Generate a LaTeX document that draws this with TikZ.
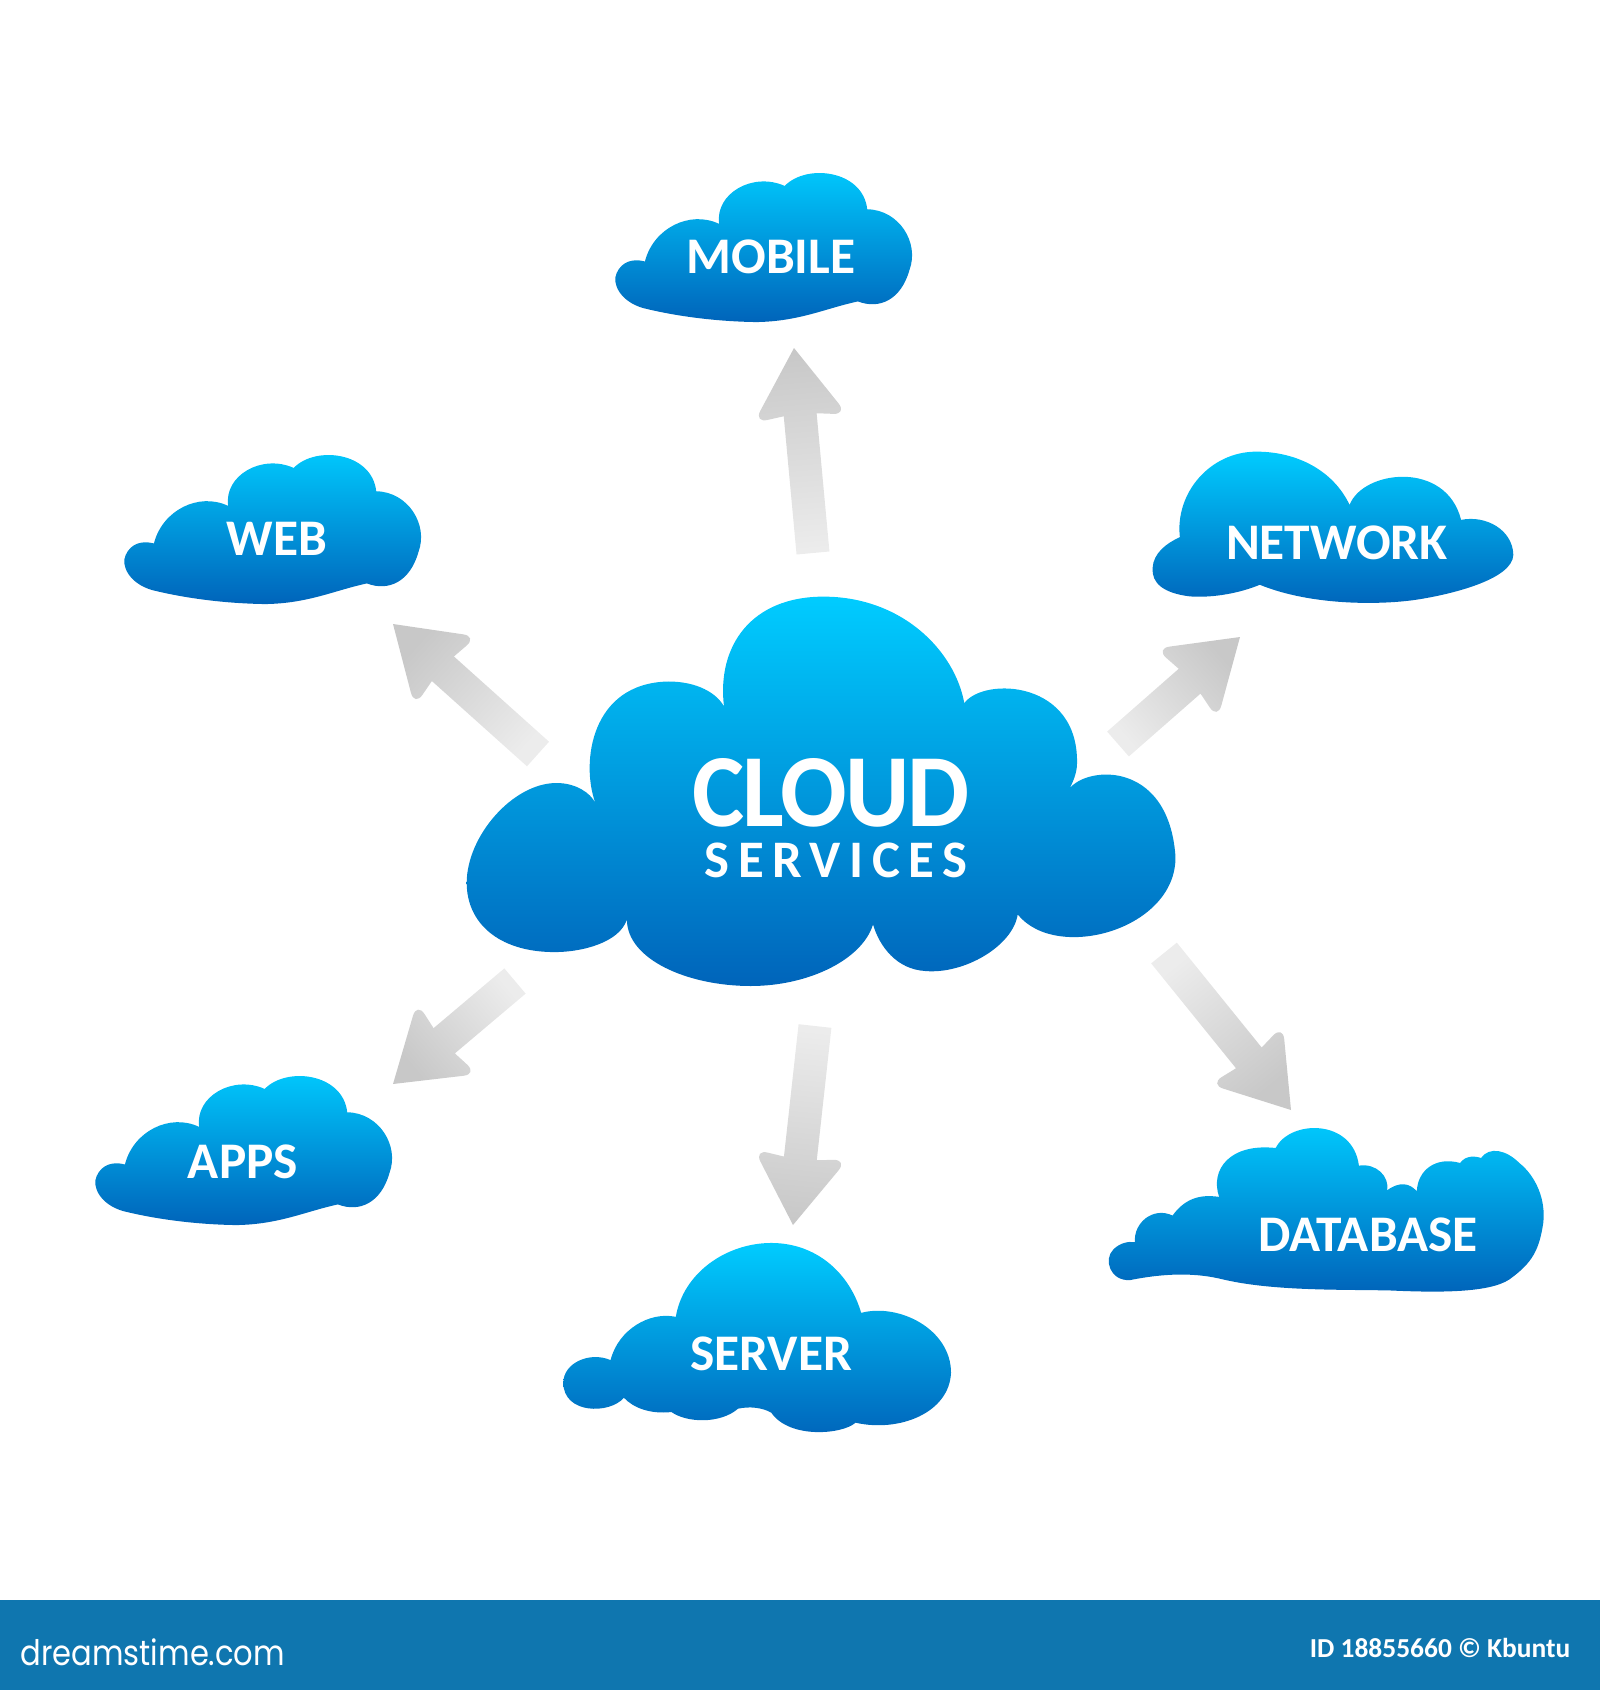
\documentclass[tikz,border=0pt]{standalone}
\usepackage{fontspec}
\usetikzlibrary{calc}
\newfontfamily\labelfont{Carlito}
\newfontfamily\titlefont[LetterSpace=-2]{Carlito}
\newfontfamily\subfont[LetterSpace=16]{Carlito}
\newfontfamily\barfont{Poppins}
\definecolor{cloudtop}{RGB}{0,204,255}
\definecolor{cloudbottom}{RGB}{0,100,186}
\definecolor{barblue}{RGB}{15,118,175}
\definecolor{tailgrey}{RGB}{236,236,236}
\definecolor{tipgrey}{RGB}{200,200,200}
\tikzset{
	cloudfill/.style={top color=cloudtop,bottom color=cloudbottom},
	arrowfill/.style={top color=tipgrey,bottom color=tailgrey},
	zoomed/.style={x=0.003333cm,y=-0.003333cm},
	cloudlabel/.style={text=white,inner sep=0pt,font=\labelfont\bfseries\fontsize{14.6}{15}\selectfont},
	barlabel/.style={text=white,inner sep=0pt}
}
\newcommand{\smallcloud}[2]{
	\path[cloudfill,shift={(#1,#2)},zoomed] (135,335) .. controls (160,235) and (270,180) .. (358,222)
		.. controls (345,130) and (460,65) .. (555,108)
		.. controls (620,40) and (790,60) .. (803,178)
		.. controls (900,180) and (960,280) .. (930,360)
		.. controls (905,450) and (840,480) .. (775,455)
		.. controls (680,475) and (600,515) .. (470,517)
		.. controls (330,515) and (210,495) .. (130,475)
		.. controls (60,455) and (35,400) .. (50,370)
		.. controls (65,335) and (100,325) .. (135,335) -- cycle;
}
\newcommand{\blockarrow}[3]{
	\coordinate (neck) at ($(#2)!.67cm!(#1)$);
	\coordinate (wing) at ($(#2)!.71cm!(#1)$);
	\path[arrowfill,shading angle=#3] ($(#1)!.165cm!90:(#2)$) -- ($(neck)!.165cm!90:(#2)$)
		[rounded corners=4pt] -- ($(wing)!.47cm!90:(#2)$) [sharp corners] -- (#2)
		[rounded corners=4pt] -- ($(wing)!.47cm!-90:(#2)$) [sharp corners] -- ($(neck)!.165cm!-90:(#2)$)
		-- ($(#1)!.165cm!-90:(#2)$) -- cycle;
}
\begin{document}
\begin{tikzpicture}[x=0.01cm,y=-0.01cm]
	\useasboundingbox (0,0) rectangle (1600,1690);
	\fill[barblue] (0,1600) rectangle (1600,1690);
	\smallcloud{600}{150}
	\smallcloud{109}{432}
	\smallcloud{80}{1053}
	\path[cloudfill,shift={(1100,430)},zoomed] (240,322) .. controls (225,190) and (330,65) .. (470,65)
		.. controls (590,65) and (700,120) .. (750,225)
		.. controls (790,120) and (1040,90) .. (1085,270)
		.. controls (1160,255) and (1240,300) .. (1242,375)
		.. controls (1240,450) and (1050,495) .. (950,510)
		.. controls (850,525) and (640,530) .. (480,465)
		.. controls (420,490) and (340,505) .. (270,500)
		.. controls (190,490) and (155,460) .. (158,415)
		.. controls (160,370) and (200,340) .. (240,322) -- cycle;
	\path[cloudfill,shift={(550,1010)},zoomed] (182,1052) .. controls (205,960) and (300,905) .. (378,922)
		.. controls (400,790) and (530,700) .. (665,700)
		.. controls (800,700) and (900,790) .. (935,910)
		.. controls (1050,880) and (1205,960) .. (1205,1090)
		.. controls (1200,1210) and (1050,1270) .. (918,1240)
		.. controls (880,1275) and (720,1290) .. (665,1210)
		.. controls (640,1195) and (600,1190) .. (565,1198)
		.. controls (510,1245) and (410,1240) .. (365,1208)
		.. controls (300,1215) and (250,1195) .. (222,1165)
		.. controls (180,1215) and (40,1215) .. (40,1120)
		.. controls (40,1060) and (120,1025) .. (182,1052) -- cycle;
	\path[cloudfill,shift={(1090,930)},zoomed] (135,938) .. controls (130,880) and (190,830) .. (248,858)
		.. controls (290,800) and (340,795) .. (388,802)
		.. controls (360,720) and (420,640) .. (558,655)
		.. controls (600,570) and (790,565) .. (808,708)
		.. controls (860,700) and (900,740) .. (893,782)
		.. controls (930,755) and (960,760) .. (982,785)
		.. controls (985,720) and (1040,680) .. (1112,700)
		.. controls (1130,675) and (1160,680) .. (1175,685)
		.. controls (1200,650) and (1250,660) .. (1290,700)
		.. controls (1340,740) and (1370,810) .. (1362,880)
		.. controls (1350,960) and (1330,1000) .. (1260,1050)
		.. controls (1200,1090) and (1050,1090) .. (900,1083)
		.. controls (750,1080) and (550,1085) .. (400,1050)
		.. controls (320,1030) and (230,1030) .. (120,1052)
		.. controls (60,1055) and (40,990) .. (70,960)
		.. controls (90,940) and (115,935) .. (135,938) -- cycle;
	\path[cloudfill,shift={(440,570)},x=0.004847cm,y=-0.003333cm] (320,700) .. controls (290,580) and (310,340) .. (470,335)
		.. controls (530,335) and (570,370) .. (585,410)
		.. controls (570,230) and (640,80) .. (790,80)
		.. controls (950,80) and (1060,240) .. (1080,400)
		.. controls (1120,320) and (1320,330) .. (1312,590)
		.. controls (1310,620) and (1300,650) .. (1293,665)
		.. controls (1320,590) and (1500,560) .. (1515,860)
		.. controls (1518,1080) and (1270,1180) .. (1190,1035)
		.. controls (1180,1130) and (1080,1215) .. (1000,1205)
		.. controls (940,1200) and (905,1130) .. (892,1065)
		.. controls (870,1170) and (760,1250) .. (640,1250)
		.. controls (510,1250) and (385,1170) .. (385,1050)
		.. controls (370,1120) and (290,1150) .. (230,1148)
		.. controls (120,1145) and (55,1060) .. (55,940)
		.. controls (55,800) and (150,640) .. (240,640)
		.. controls (280,640) and (310,670) .. (320,700) -- cycle;
	\coordinate (mobile tail) at (813,553);
	\coordinate (mobile tip) at (794,348);
	\coordinate (web tail) at (538,754);
	\coordinate (web tip) at (393,624);
	\coordinate (network tail) at (1118,744);
	\coordinate (network tip) at (1240,637);
	\coordinate (database tail) at (1164,953);
	\coordinate (database tip) at (1291,1110);
	\coordinate (server tail) at (815,1026);
	\coordinate (server tip) at (793,1225);
	\coordinate (apps tail) at (515,981);
	\coordinate (apps tip) at (393,1084);
	\blockarrow{mobile tail}{mobile tip}{5}
	\blockarrow{web tail}{web tip}{48}
	\blockarrow{network tail}{network tip}{-49}
	\blockarrow{database tail}{database tip}{-141}
	\blockarrow{server tail}{server tip}{174}
	\blockarrow{apps tail}{apps tip}{130}
	\node[cloudlabel] (mobile) at (771,257) {MOBILE};
	\node[cloudlabel] (web) at (277,539) {WEB};
	\node[cloudlabel] (network) at (1337,543) {NETWORK};
	\node[cloudlabel] (apps) at (243,1162) {APPS};
	\node[cloudlabel] (server) at (771,1354) {SERVER};
	\node[cloudlabel] (database) at (1368,1235) {DATABASE};
	\node[cloudlabel,xscale=0.95,font=\titlefont\bfseries\fontsize{29.5}{30}\selectfont] (cloud) at (831,793) {CLOUD};
	\node[cloudlabel,font=\subfont\bfseries\fontsize{15}{15}\selectfont] (services) at (836,860) {SERVICES};
	\node[barlabel,anchor=west,xscale=0.87,font=\barfont\fontsize{10}{12}\selectfont] (site) at (20,1652) {dreamstime.com};
	\node[barlabel,anchor=east,font=\labelfont\bfseries\fontsize{7.8}{9}\selectfont] (credit) at (1571,1648) {ID 18855660 © Kbuntu};
\end{tikzpicture}
\end{document}
